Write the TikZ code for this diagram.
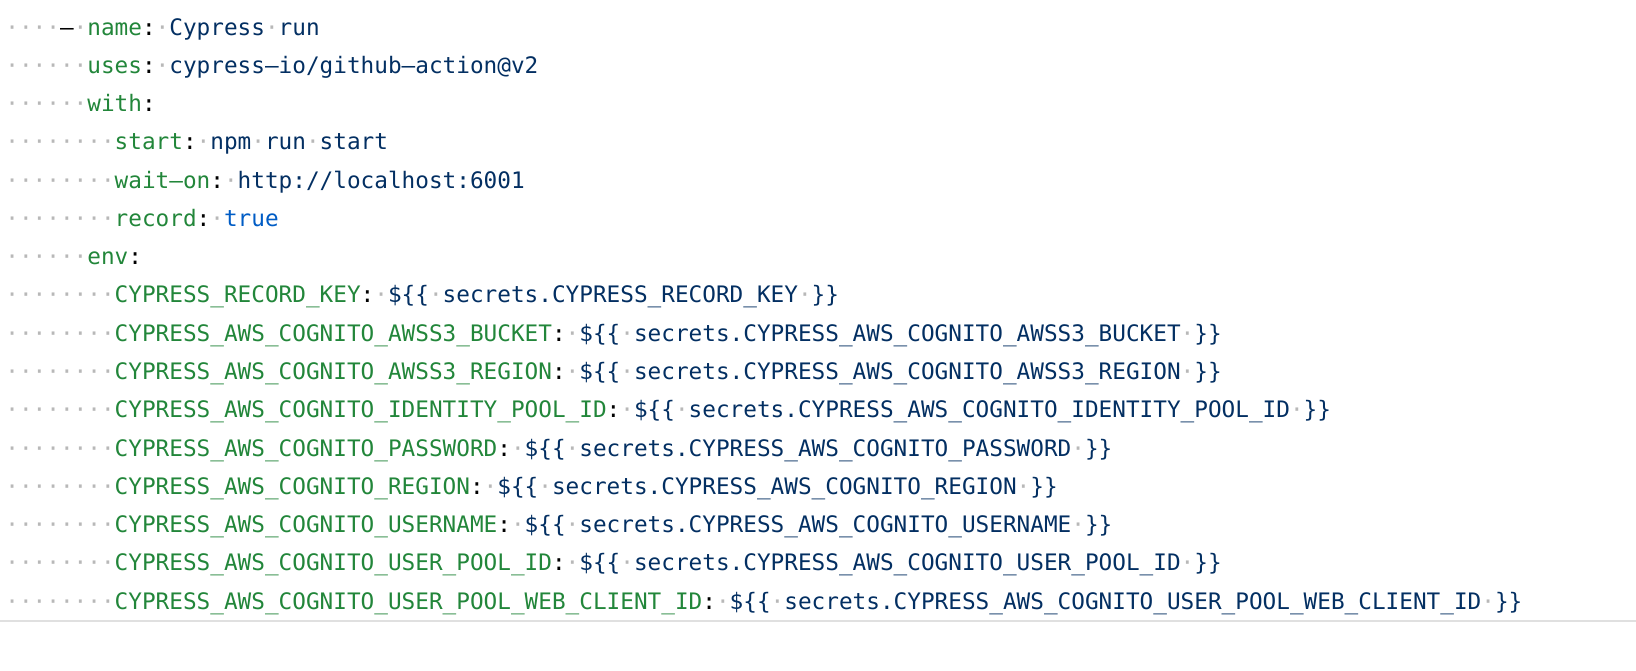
\documentclass[tikz,border=0pt]{standalone}
\usepackage{fontspec}
\setmonofont{DejaVu Sans Mono}
\definecolor{keyc}{HTML}{22863A}
\definecolor{valc}{HTML}{032F62}
\definecolor{truec}{HTML}{005CC5}
\definecolor{dotc}{HTML}{B8B8B8}
\newcommand{\Dt}{\textcolor{dotc}{·}}
\newcommand{\Ds}[1]{\foreach\ii in {1,...,#1}{\Dt}}
\newcommand{\K}[1]{\textcolor{keyc}{#1}}
\newcommand{\V}[1]{\textcolor{valc}{#1}}
\newcommand{\Cl}{\textcolor{black}{:}}
\newcommand{\Sec}[1]{\V{\$\{\{}\Dt\V{secrets.#1}\Dt\V{\}\}}}
\newcommand{\Ev}[1]{\Ds{8}\K{#1}\Cl\Dt\Sec{#1}}
\begin{document}
\begin{tikzpicture}[x=0.5pt,y=-0.5pt,
  code/.style={anchor=base west,inner sep=0pt,font=\ttfamily\fontsize{11.35pt}{13pt}\selectfont}]
\useasboundingbox (0,0) rectangle (1636,670);
\begin{scope}
\clip (0,0) rectangle (1636,670);
\node[code] (lp) at (5,-3.3) {\Ds{20}\V{\}\}}};
\end{scope}
\draw[color=black!12,line width=1pt] (0,621) -- (1636,621);
\node[code] (l0) at (5,35) {\Ds{4}\textcolor{black}{–}\Dt\K{name}\Cl\Dt\V{Cypress}\Dt\V{run}};
\node[code] (l1) at (5,73.3) {\Ds{6}\K{uses}\Cl\Dt\V{cypress–io/github–action@v2}};
\node[code] (l2) at (5,111.5) {\Ds{6}\K{with}\Cl};
\node[code] (l3) at (5,149.8) {\Ds{8}\K{start}\Cl\Dt\V{npm}\Dt\V{run}\Dt\V{start}};
\node[code] (l4) at (5,188.1) {\Ds{8}\K{wait–on}\Cl\Dt\V{http://localhost:6001}};
\node[code] (l5) at (5,226.4) {\Ds{8}\K{record}\Cl\Dt\textcolor{truec}{true}};
\node[code] (l6) at (5,264.6) {\Ds{6}\K{env}\Cl};
\node[code] (l7) at (5,302.9) {\Ev{CYPRESS\_RECORD\_KEY}};
\node[code] (l8) at (5,341.2) {\Ev{CYPRESS\_AWS\_COGNITO\_AWSS3\_BUCKET}};
\node[code] (l9) at (5,379.5) {\Ev{CYPRESS\_AWS\_COGNITO\_AWSS3\_REGION}};
\node[code] (l10) at (5,417.7) {\Ev{CYPRESS\_AWS\_COGNITO\_IDENTITY\_POOL\_ID}};
\node[code] (l11) at (5,456) {\Ev{CYPRESS\_AWS\_COGNITO\_PASSWORD}};
\node[code] (l12) at (5,494.3) {\Ev{CYPRESS\_AWS\_COGNITO\_REGION}};
\node[code] (l13) at (5,532.6) {\Ev{CYPRESS\_AWS\_COGNITO\_USERNAME}};
\node[code] (l14) at (5,570.8) {\Ev{CYPRESS\_AWS\_COGNITO\_USER\_POOL\_ID}};
\node[code] (l15) at (5,609.1) {\Ev{CYPRESS\_AWS\_COGNITO\_USER\_POOL\_WEB\_CLIENT\_ID}};
\end{tikzpicture}
\end{document}
